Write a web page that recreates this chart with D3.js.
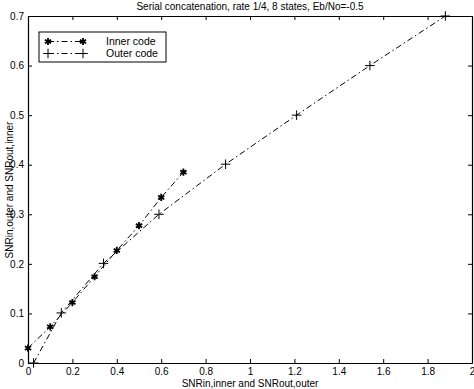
<!DOCTYPE html>
<html><head><meta charset="utf-8">
<script src="https://cdn.jsdelivr.net/npm/d3@7"></script>
<style>body{margin:0;background:#fff}svg{display:block}text{font-family:"Liberation Sans",Arial,sans-serif;fill:#000}</style>
</head><body><svg id="c" width="474" height="389"></svg>
<script>
const innerX = [0, 0.1, 0.2, 0.3, 0.4, 0.5, 0.6, 0.7];
const innerY = [0.03, 0.073, 0.122, 0.174, 0.227, 0.277, 0.334, 0.385];
const outerX = [0.025, 0.15, 0.34, 0.59, 0.89, 1.21, 1.54, 1.88];
const outerY = [0, 0.101, 0.201, 0.30, 0.401, 0.50, 0.60, 0.70];
const xTicks = [0, 0.2, 0.4, 0.6, 0.8, 1, 1.2, 1.4, 1.6, 1.8, 2];
const yTicks = [0, 0.1, 0.2, 0.3, 0.4, 0.5, 0.6, 0.7];
const seriesNames = ["Inner code", "Outer code"];
const title = "Serial concatenation, rate 1/4, 8 states, Eb/No=-0.5";
const xLabel = "SNRin,inner and SNRout,outer";
const yLabel = "SNRin,outer and SNRout,inner";

const svg = d3.select("#c");
const L = 28, R = 472, T = 16, B = 363;
const x = d3.scaleLinear().domain([0, 2]).range([L, R]);
const y = d3.scaleLinear().domain([0, 0.7]).range([B, T]);
const fmt = d => String(d);

function styleAxis(g){ g.select(".domain").attr("stroke","#000").attr("stroke-width",1.2);
  g.selectAll(".tick line").attr("stroke","#000");
  g.selectAll("text").style("font-size","10px").attr("font-family",null); }

svg.append("g").attr("transform",`translate(0,${B})`)
  .call(d3.axisBottom(x).tickValues(xTicks).tickFormat(fmt).tickSizeInner(-4).tickSizeOuter(0).tickPadding(5)).call(styleAxis);
svg.append("g").attr("transform",`translate(0,${T})`)
  .call(d3.axisTop(x).tickValues(xTicks).tickFormat("").tickSizeInner(-4).tickSizeOuter(0)).call(styleAxis);
svg.append("g").attr("transform",`translate(${L},0)`)
  .call(d3.axisLeft(y).tickValues(yTicks).tickFormat(fmt).tickSizeInner(-4).tickSizeOuter(0).tickPadding(4)).call(styleAxis);
svg.append("g").attr("transform",`translate(${R},0)`)
  .call(d3.axisRight(y).tickValues(yTicks).tickFormat("").tickSizeInner(-4).tickSizeOuter(0)).call(styleAxis);

const dash = "6,3,1.5,3";
const line = d3.line().x(d => x(d[0])).y(d => y(d[1]));
const inner = innerX.map((v,i)=>[v, innerY[i]]);
const outer = outerX.map((v,i)=>[v, outerY[i]]);
svg.append("path").datum(inner).attr("d", line).attr("fill","none").attr("stroke","#000").attr("stroke-width",1).attr("stroke-dasharray",dash);
svg.append("path").datum(outer).attr("d", line).attr("fill","none").attr("stroke","#000").attr("stroke-width",1).attr("stroke-dasharray",dash);

const star = d3.symbol().type(d3.symbolAsterisk).size(36);
const plus = d3.symbol().type(d3.symbolPlus).size(32);
svg.selectAll(".ist").data(inner).join("path").attr("transform",d=>`translate(${x(d[0])},${y(d[1])})`)
  .attr("d", star).attr("fill","none").attr("stroke","#000").attr("stroke-width",1.8);
svg.selectAll(".ipl").data(outer).join("path").attr("transform",d=>`translate(${x(d[0])},${y(d[1])})`)
  .attr("d", plus).attr("fill","none").attr("stroke","#000").attr("stroke-width",1);

// legend
const lg = svg.append("g");
lg.append("rect").attr("x",39).attr("y",32).attr("width",127).attr("height",30).attr("fill","#fff").attr("stroke","#000").attr("stroke-width",1);
const rows = [41.5, 53.5];
seriesNames.forEach((n,i)=>{
  const yy = rows[i];
  lg.append("line").attr("x1",48).attr("x2",83).attr("y1",yy).attr("y2",yy).attr("stroke","#000").attr("stroke-dasharray",dash);
  [48,83].forEach(xx=> lg.append("path").attr("transform",`translate(${xx},${yy})`).attr("d", i===0?star:plus)
     .attr("fill","none").attr("stroke","#000").attr("stroke-width", i===0?1.8:1));
  lg.append("text").attr("x",106).attr("y",yy).attr("dy","0.35em").style("font-size","10.5px").text(n);
});

svg.append("text").attr("x",250).attr("y",6).attr("dy","0.35em").attr("text-anchor","middle").style("font-size","10px").text(title);
svg.append("text").attr("x",250).attr("y",383).attr("dy","0.35em").attr("text-anchor","middle").style("font-size","10px").text(xLabel);
svg.append("text").attr("transform","translate(9,190) rotate(-90)").attr("dy","0.35em").attr("text-anchor","middle").style("font-size","10px").text(yLabel);
</script></body></html>
